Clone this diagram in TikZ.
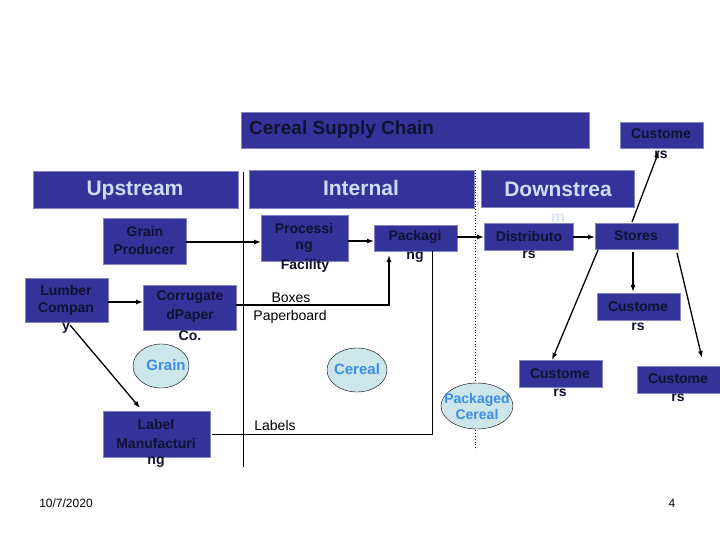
\documentclass[tikz,border=0pt]{standalone}
\usepackage{fontspec}
\setmainfont{Liberation Sans}
\usetikzlibrary{arrows.meta}
\definecolor{bx}{HTML}{333399}
\definecolor{hd}{HTML}{CCDDF5}
\definecolor{el}{HTML}{CCE6EA}
\definecolor{et}{HTML}{3A8EE6}
\definecolor{tx}{HTML}{111130}
\begin{document}
\begin{tikzpicture}[x=1pt,y=-1pt,
  box/.style={fill=bx,draw=bx!60!white,line width=0.6pt},
  bt/.style={font=\bfseries\fontsize{14}{16}\selectfont,text=tx,anchor=center,inner sep=0},
  ht/.style={font=\bfseries\fontsize{21}{24}\selectfont,text=hd,anchor=center,inner sep=0},
  ell/.style={fill=el,draw=black,line width=0.4pt},
  et/.style={font=\bfseries\fontsize{15}{17}\selectfont,text=et,inner sep=0,align=center},
  arr/.style={-{Latex[length=7pt,width=5pt]},line width=1.3pt},
  ln/.style={line width=1.3pt},
  lt/.style={font=\fontsize{14}{16}\selectfont,inner sep=0}]
\useasboundingbox (0,0) rectangle (720,540);
\fill[white] (0,0) rectangle (720,540);
% title and headers
\filldraw[box] (241,112) rectangle (589,148);
\node[font=\bfseries\fontsize{19}{22}\selectfont,text=tx,anchor=west,inner sep=0] (title) at (249,130) {Cereal Supply Chain};
\filldraw[box] (33,171) rectangle (238,208);
\node[ht] (up) at (135,190) {Upstream};
\filldraw[box] (249,170) rectangle (474,208);
\node[ht] (int) at (361,188) {Internal};
\filldraw[box] (481,170) rectangle (634,207);
\node[ht] (down) at (558,189) {Downstrea};
\node[ht,text=hd!70!white,font=\bfseries\fontsize{16}{18}\selectfont] (downm) at (558,218) {m};
% separators
\draw[line width=0.8pt] (243,172) -- (243,467);
\draw[dotted,line width=0.8pt] (475,170) -- (475,450);
% boxes
\filldraw[box] (103,218) rectangle (186,264);
\node[bt] (gp1) at (145,231) {Grain};
\node[bt] (gp2) at (144,249) {Producer};
\filldraw[box] (261,215) rectangle (348,261);
\node[bt] (pf1) at (304,228) {Processi};
\node[bt] (pf2) at (304,247) {ng};
\node[bt] (pf3) at (305,266) {Facility};
\filldraw[box] (374,225) rectangle (457,251);
\node[bt] (pk1) at (415,237) {Packagi};
\node[bt] (pk2) at (415,257) {ng};
\filldraw[box] (484,223) rectangle (573,250);
\node[bt] (di1) at (529,236) {Distributo};
\node[bt] (di2) at (529,255) {rs};
\filldraw[box] (595,223) rectangle (678,249);
\node[bt] (st) at (636,236) {Stores};
\filldraw[box] (620,122) rectangle (703,148);
\node[bt] (ct1) at (661,134) {Custome};
\node[bt] (ct2) at (661,155) {rs};
\filldraw[box] (597,293) rectangle (680,320);
\node[bt] (cm1) at (638,307) {Custome};
\node[bt] (cm2) at (638,327) {rs};
\filldraw[box] (519,360) rectangle (602,387);
\node[bt] (cl1) at (560,374) {Custome};
\node[bt] (cl2) at (560,393) {rs};
\filldraw[box] (637,366) rectangle (720,393);
\node[bt] (cr1) at (678,379) {Custome};
\node[bt] (cr2) at (678,398) {rs};
\filldraw[box] (25,278) rectangle (108,322);
\node[bt] (lc1) at (66,290) {Lumber};
\node[bt] (lc2) at (66,309) {Compan};
\node[bt] (lc3) at (66,328) {y};
\filldraw[box] (143,285) rectangle (236,330);
\node[bt] (cp1) at (190,297) {Corrugate};
\node[bt] (cp2) at (190,316) {dPaper};
\node[bt] (cp3) at (190,336) {Co.};
\filldraw[box] (103,411) rectangle (210,457);
\node[bt] (lm1) at (156,424) {Label};
\node[bt] (lm2) at (156,443) {Manufacturi};
\node[bt] (lm3) at (156,462) {ng};
% ellipses
\draw[ell] (161,366) ellipse [x radius=28,y radius=22];
\node[et] (grain) at (166,365) {Grain};
\draw[ell] (357,370) ellipse [x radius=30,y radius=22];
\node[et] (cereal) at (357,369) {Cereal};
\draw[ell] (477,406) ellipse [x radius=36,y radius=23];
\node[et,font=\bfseries\fontsize{14}{16}\selectfont] (pc) at (477,406) {Packaged\\Cereal};
% labels
\node[lt] (boxes) at (291,298) {Boxes};
\node[lt] (pb) at (290,317) {Paperboard};
\node[lt] (lab) at (275,425) {Labels};
\node[font=\fontsize{12}{14}\selectfont] (date) at (66,503) {10/7/2020};
\node[font=\fontsize{12}{14}\selectfont] (pg) at (672,503) {4};
% connectors
\coordinate (a1) at (186,242); \coordinate (a2) at (261,242);
\draw[arr] (a1) -- (a2);
\coordinate (b1) at (348,241); \coordinate (b2) at (374,241);
\draw[arr] (b1) -- (b2);
\coordinate (c1) at (457,237); \coordinate (c2) at (484,237);
\draw[arr] (c1) -- (c2);
\coordinate (d1) at (573,237); \coordinate (d2) at (595,237);
\draw[arr] (d1) -- (d2);
\coordinate (e1) at (108,302); \coordinate (e2) at (143,302);
\draw[arr] (e1) -- (e2);
\coordinate (f1) at (70,325); \coordinate (f2) at (140,408);
\draw[arr] (f1) -- (f2);
\coordinate (g1) at (236,305); \coordinate (g2) at (389,305); \coordinate (g3) at (389,255);
\draw[arr] (g1) -- (g2) -- (g3);
\coordinate (h1) at (212,434); \coordinate (h2) at (432,434); \coordinate (h3) at (432,251);
\draw[line width=0.8pt] (h1) -- (h2) -- (h3);
\coordinate (s1) at (632,222); \coordinate (s2) at (659,151);
\draw[arr] (s1) -- (s2);
\coordinate (s3) at (633,252); \coordinate (s4) at (633,292);
\draw[arr] (s3) -- (s4);
\coordinate (s5) at (598,250); \coordinate (s6) at (552,360);
\draw[arr] (s5) -- (s6);
\coordinate (s7) at (677,253); \coordinate (s8) at (702,358);
\draw[arr] (s7) -- (s8);
\end{tikzpicture}
\end{document}
